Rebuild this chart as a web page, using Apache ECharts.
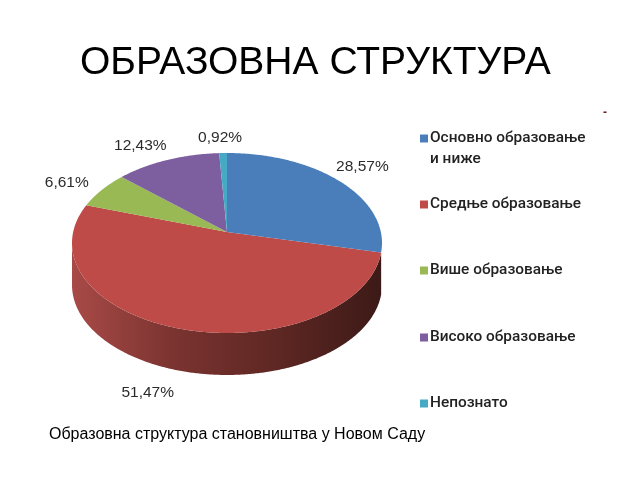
<!DOCTYPE html>
<html>
<head>
<meta charset="utf-8">
<style>html,body{margin:0;padding:0;background:#fff}#c{width:638px;height:479px}</style>
<script src="https://cdn.jsdelivr.net/npm/echarts@6/dist/echarts.min.js"></script>
</head>
<body>
<div id="c"></div>
<script>
const categories = ['Основно образовање', 'Средње образовање', 'Више образовање', 'Високо образовање', 'Непознато'];
const values = [28.57, 51.47, 6.61, 12.43, 0.92];
const labels = ['28,57%', '51,47%', '6,61%', '12,43%', '0,92%'];
const colors = ['#4a7ebb', '#be4b48', '#98b954', '#7d5fa0', '#46aac5'];
const labelOffsets = [[24, -14], [-33, 22], [-35, -7], [-27, -14], [-3, -15]];
const legendCentres = [139, 205, 271, 338, 404];
const wallStops = [null, ['#a84a47', '#7a3330', '#5e2723', '#3c1a17'], null, null, null];

const pie = { ax: 227, ay: 232, cx: 227, cy: 243, rx: 155, ry: 90, depth: 42 };
const total = values.reduce((a, b) => a + b, 0);

function rim(frac) {
  const th = frac * 2 * Math.PI;
  const dx = Math.sin(th) * pie.rx, dy = -Math.cos(th) * pie.ry;
  const ox = (pie.ax - pie.cx) / pie.rx, oy = (pie.ay - pie.cy) / pie.ry;
  const ux = dx / pie.rx, uy = dy / pie.ry;
  const A = ux * ux + uy * uy, B = 2 * (ox * ux + oy * uy), C = ox * ox + oy * oy - 1;
  const t = (-B + Math.sqrt(B * B - 4 * A * C)) / (2 * A);
  return [pie.ax + dx * t, pie.ay + dy * t];
}

function renderSlice(index) {
  return function (params, api) {
    const start = values.slice(0, index).reduce((a, b) => a + b, 0) / total;
    const end = start + api.value(0) / total;
    const arc = [];
    const steps = Math.max(4, Math.ceil((end - start) * 720));
    for (let i = 0; i <= steps; i++) arc.push(rim(start + (end - start) * i / steps));
    const children = [];
    if (wallStops[index]) {
      const lower = arc.filter(p => p[1] >= pie.cy);
      const wall = lower.concat(lower.slice().reverse().map(p => [p[0], p[1] + pie.depth]));
      children.push({
        type: 'polygon',
        shape: { points: wall },
        style: {
          fill: new echarts.graphic.LinearGradient(0, 0, 1, 0, wallStops[index].map((c, i, a) => ({
            offset: i / (a.length - 1), color: c
          })))
        }
      });
    }
    children.push({
      type: 'polygon',
      shape: { points: [[pie.ax, pie.ay]].concat(arc) },
      style: { fill: colors[index] }
    });
    const mid = rim((start + end) / 2);
    children.push({
      type: 'text',
      style: {
        text: labels[index],
        x: mid[0] + labelOffsets[index][0],
        y: mid[1] + labelOffsets[index][1] + (index === 1 ? pie.depth : 0),
        align: 'center', verticalAlign: 'middle',
        font: '15.5px "Liberation Sans", Arial, sans-serif',
        fill: '#2b2b2b'
      }
    });
    return { type: 'group', children };
  };
}

const chart = echarts.init(document.getElementById('c'), null, { renderer: 'canvas' });
chart.setOption({
  animation: false,
  backgroundColor: '#ffffff',
  title: [
    { text: 'ОБРАЗОВНА СТРУКТУРА', left: 75, top: 39,
      textStyle: { fontFamily: 'Liberation Sans', fontSize: 39, fontWeight: 'normal', color: '#000' } },
    { text: 'Образовна структура становништва у Новом Саду', left: 44, top: 422,
      textStyle: { fontFamily: 'Liberation Sans', fontSize: 16, fontWeight: 'normal', color: '#000' } }
  ],
  legend: categories.map((name, i) => ({
    data: [name], left: 420, top: legendCentres[i] - 9, orient: 'vertical',
    icon: 'rect', itemWidth: 8, itemHeight: 8, itemGap: 0, padding: [1, 0, 1, 0],
    selectedMode: false,
    textStyle: { fontFamily: 'Roboto', fontSize: 15.4, fontWeight: 500, color: '#222', padding: [0, 0, 0, -3] }
  })),
  graphic: [
    { type: 'text', left: 430, top: 152,
      style: { text: 'и ниже', font: '500 15.4px Roboto', fill: '#222' } },
    { type: 'text', left: 603, top: 107,
      style: { text: '-', font: 'bold 12px "Liberation Sans"', fill: '#6b1f1f' } }
  ],
  series: categories.map((name, i) => ({
    type: 'custom',
    name,
    coordinateSystem: 'none',
    z: i === 1 ? 1 : 2,
    itemStyle: { color: colors[i] },
    data: [[values[i]]],
    renderItem: renderSlice(i)
  }))
});
</script>
</body>
</html>
